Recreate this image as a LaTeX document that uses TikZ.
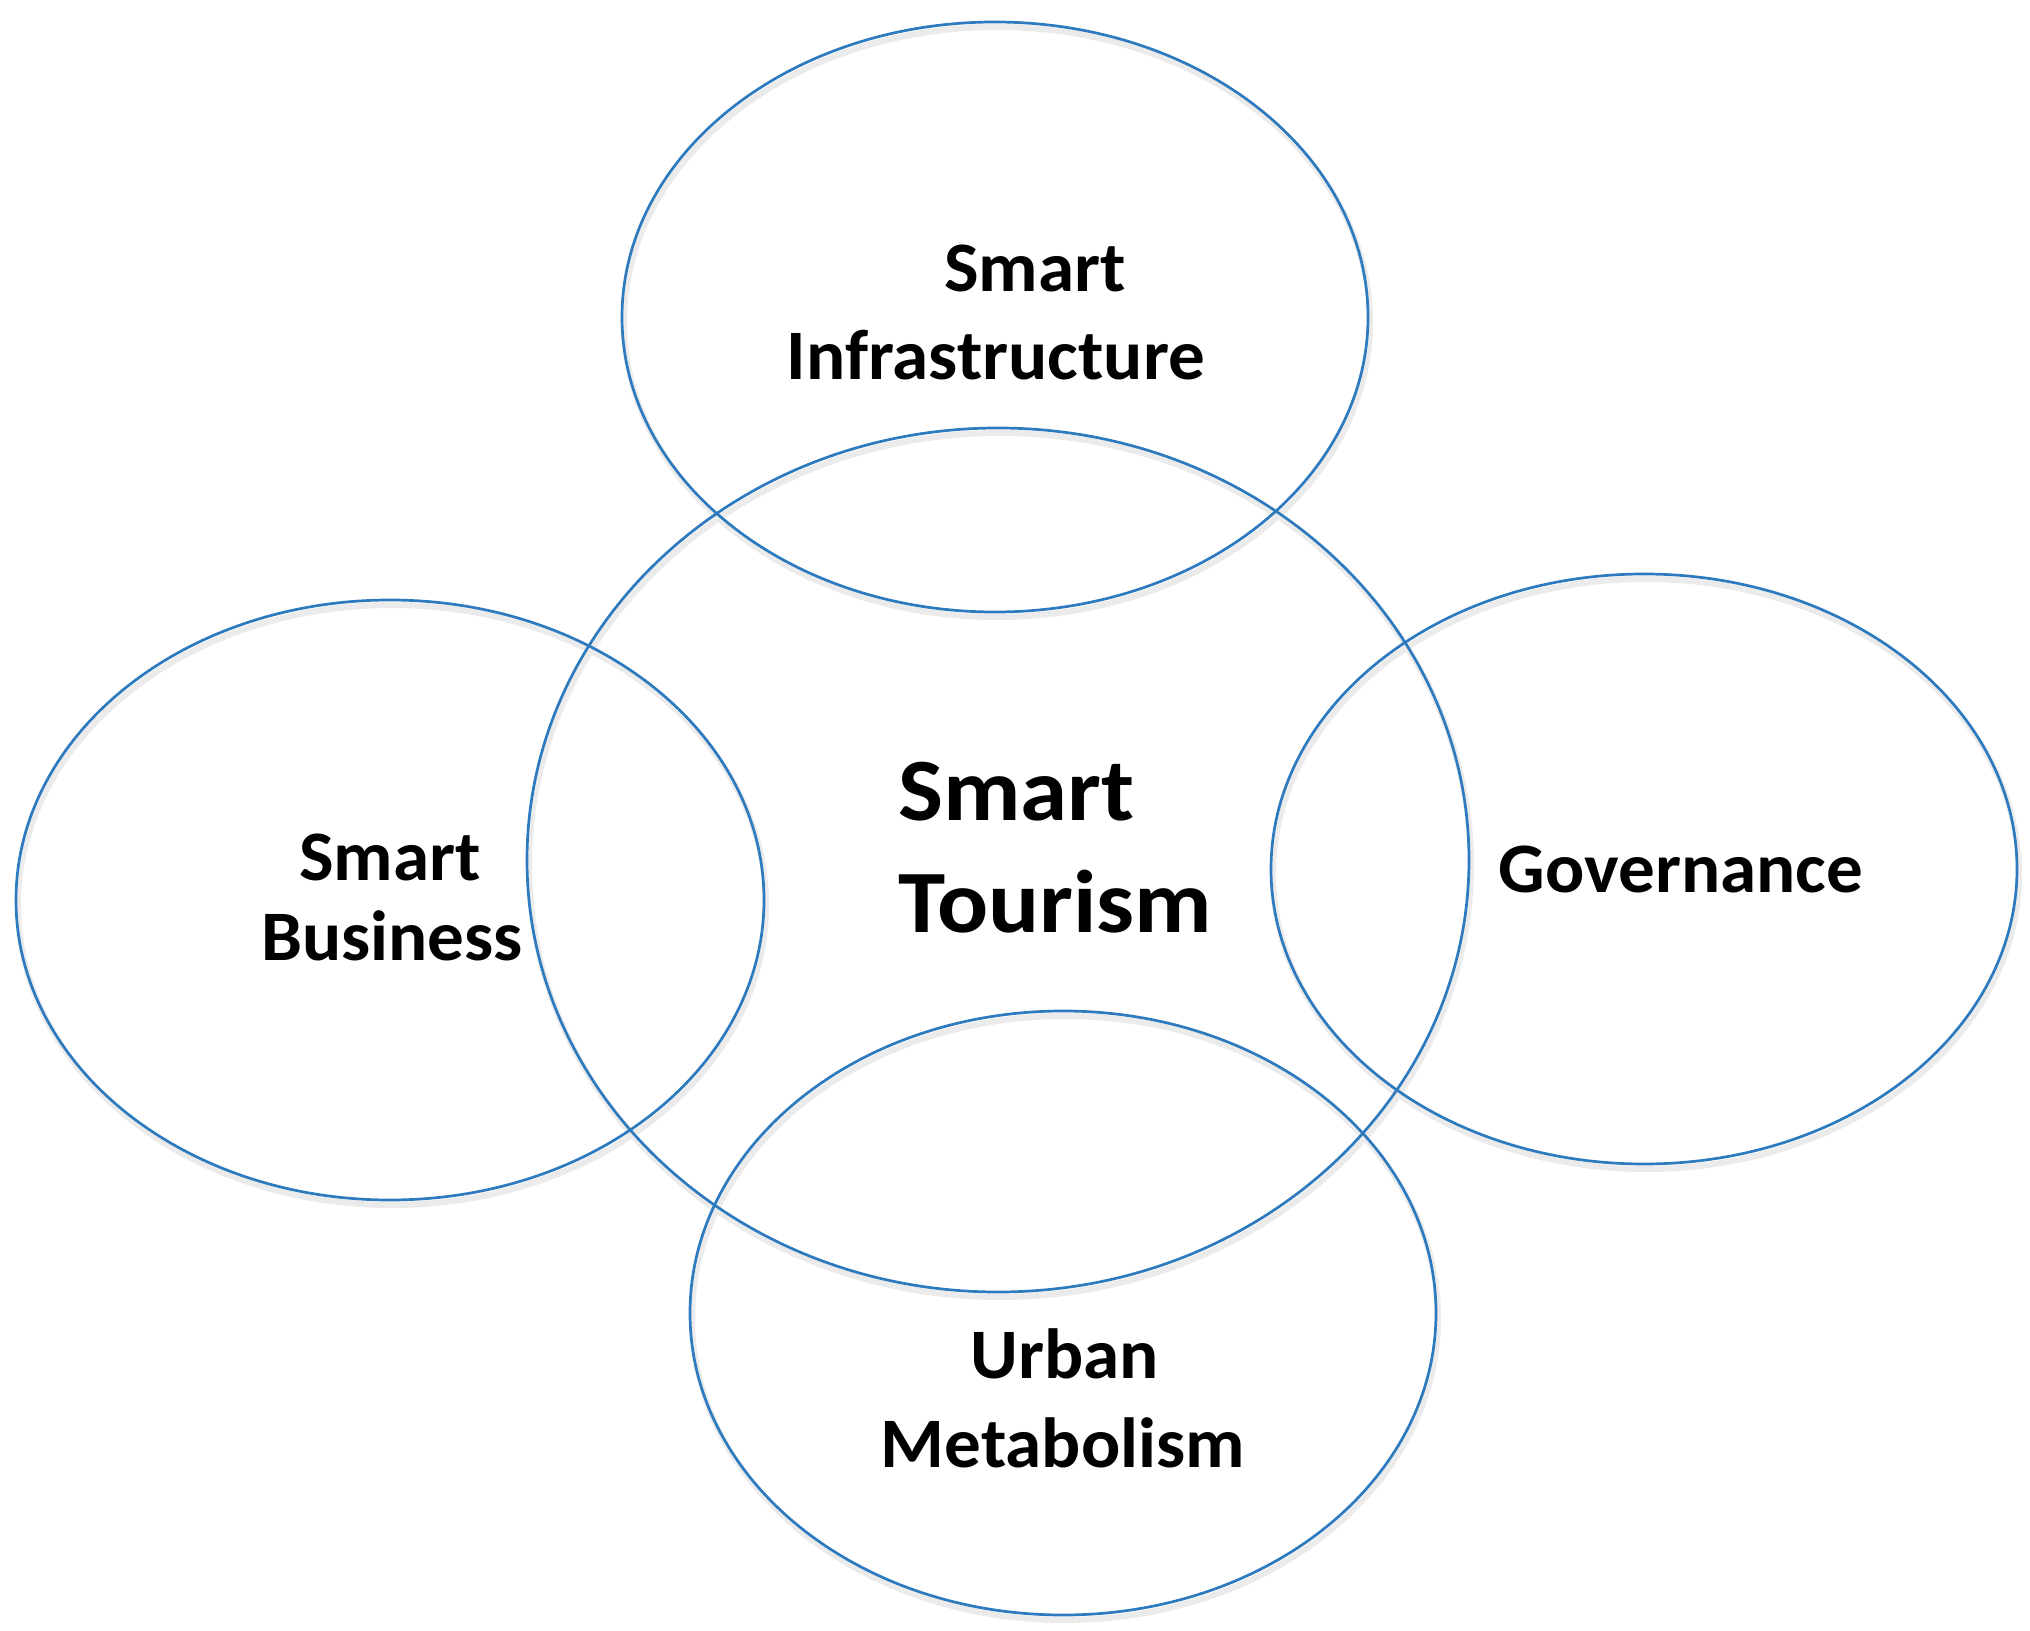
\documentclass[tikz,border=0pt]{standalone}
\usepackage{fontspec}
\setmainfont{Carlito}
\definecolor{ringblue}{RGB}{46,122,190}
\begin{document}
\begin{tikzpicture}[x=0.5pt,y=-0.5pt,
  ring/.style={draw=ringblue,line width=1.35pt},
  ringshadow/.style={draw=black!8,line width=3pt},
  lbl/.style={inner sep=0pt,anchor=base,xscale=1.03,transform shape,font=\bfseries\fontsize{35.5pt}{36pt}\selectfont},
  big/.style={inner sep=0pt,anchor=base west,xscale=1.07,transform shape,font=\bfseries\fontsize{44.5pt}{45pt}\selectfont}]
\useasboundingbox[fill=white] (0,0) rectangle (2030,1631);
% soft shadows of rings
\draw[ringshadow] (997,322) ellipse [x radius=373, y radius=295];
\draw[ringshadow] (1000,865) ellipse [x radius=471, y radius=432];
\draw[ringshadow] (392,905) ellipse [x radius=374, y radius=300];
\draw[ringshadow] (1646,874) ellipse [x radius=373, y radius=295];
\draw[ringshadow] (1065,1318) ellipse [x radius=373, y radius=302];
% rings
\draw[ring] (995,317) ellipse [x radius=373, y radius=295];
\draw[ring] (998,860) ellipse [x radius=471, y radius=432];
\draw[ring] (390,900) ellipse [x radius=374, y radius=300];
\draw[ring] (1644,869) ellipse [x radius=373, y radius=295];
\draw[ring] (1063,1313) ellipse [x radius=373, y radius=302];
% labels
\node[lbl] (infa) at (1035,292) {Smart};
\node[lbl] (infb) at (996,380) {Infrastructure};
\node[lbl] (busa) at (390,880) {Smart};
\node[lbl] (busb) at (392,960) {Business};
\node[lbl] (gov) at (1681,892) {Governance};
\node[lbl] (urba) at (1065,1378) {Urban};
\node[lbl] (urbb) at (1063,1467) {Metabolism};
\node[big] (toura) at (898,820) {Smart};
\node[big] (tourb) at (898,932) {Tourism};
\end{tikzpicture}
\end{document}
